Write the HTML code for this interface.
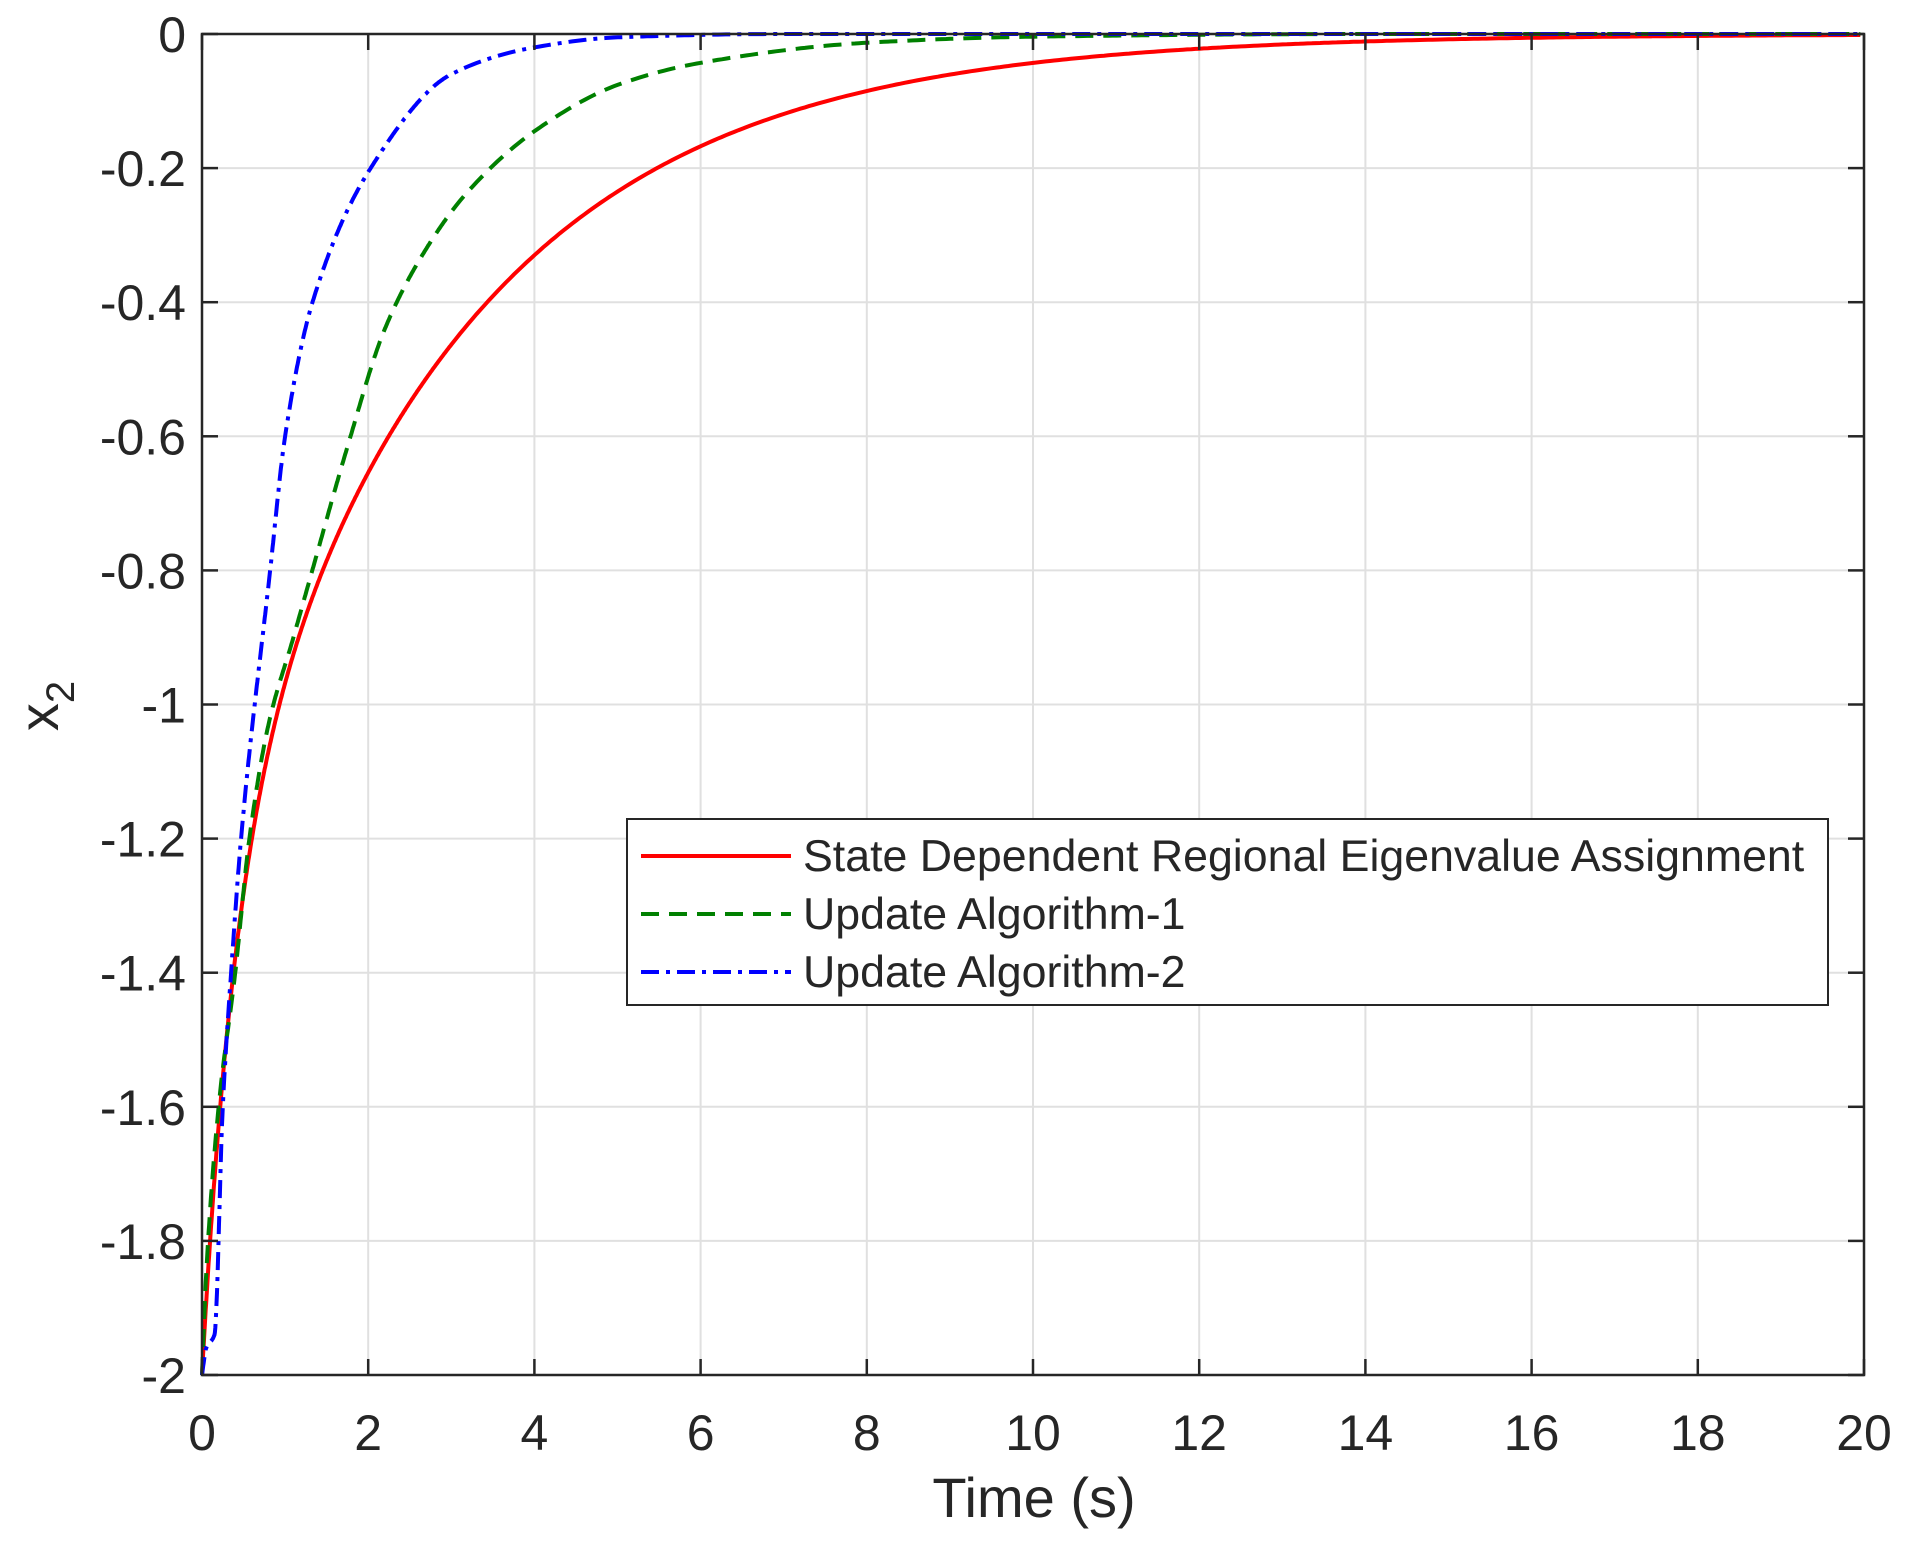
<!DOCTYPE html>
<html><head><meta charset="utf-8"><style>
html,body{margin:0;padding:0;background:#fff}
svg text{font-family:"Liberation Sans",sans-serif;fill:#262626}
</style></head><body>
<svg id="s" width="1908" height="1538" xmlns="http://www.w3.org/2000/svg">
<rect width="1908" height="1538" fill="#fff"/>
<g id="grid" stroke="#e0e0e0" stroke-width="2"></g>
<g id="curves" fill="none" stroke-width="4"></g>
<rect x="202" y="34" width="1662" height="1341" fill="none" stroke="#262626" stroke-width="2.5"/>
<g id="ticks" stroke="#262626" stroke-width="2.5"></g>
<g id="labels" font-size="50"></g>
<text x="1034" y="1517" font-size="56" text-anchor="middle">Time (s)</text>
<g transform="translate(58,706) rotate(-90)"><text x="0" y="0" font-size="56" text-anchor="middle">x<tspan font-size="40" dy="16">2</tspan></text></g>
<rect x="627" y="819" width="1201" height="186" fill="#fff" stroke="#262626" stroke-width="2"/>
<line x1="641" y1="856" x2="791" y2="856" stroke="#ff0000" stroke-width="4"/>
<line x1="641" y1="914" x2="791" y2="914" stroke="#008000" stroke-width="4" stroke-dasharray="18,10"/>
<line x1="641" y1="972" x2="791" y2="972" stroke="#0000ff" stroke-width="4" stroke-dasharray="18,7,4,7"/>
<text x="803" y="871" font-size="44.7">State Dependent Regional Eigenvalue Assignment</text>
<text x="803" y="929" font-size="44.7">Update Algorithm-1</text>
<text x="803" y="987" font-size="44.7">Update Algorithm-2</text>
</svg>
<script>
var L=202,R=1864,T=34,B=1375;
function X(t){return L+(R-L)*t/20}
function Y(v){return T+(B-T)*(-v)/2}
var ns="http://www.w3.org/2000/svg";
function el(p,n,a){var e=document.createElementNS(ns,n);for(var k in a)e.setAttribute(k,a[k]);p.appendChild(e);return e}
var g=document.getElementById('grid'),tk=document.getElementById('ticks'),lb=document.getElementById('labels');
for(var i=0;i<=10;i++){var x=X(i*2);
 if(i>0&&i<10)el(g,'line',{x1:x,y1:T,x2:x,y2:B});
 el(tk,'line',{x1:x,y1:B,x2:x,y2:B-16});el(tk,'line',{x1:x,y1:T,x2:x,y2:T+16});
 var t=el(lb,'text',{x:x,y:1450,'text-anchor':'middle'});t.textContent=String(i*2);}
for(var j=0;j<=10;j++){var v=-j*0.2,y=Y(v);
 if(j>0&&j<10)el(g,'line',{x1:L,y1:y,x2:R,y2:y});
 el(tk,'line',{x1:L,y1:y,x2:L+16,y2:y});el(tk,'line',{x1:R,y1:y,x2:R-16,y2:y});
 var s=j==0?'0':(j==5?'-1':(j==10?'-2':(-j*0.2).toFixed(1)));
 var t=el(lb,'text',{x:186,y:y+18,'text-anchor':'end'});t.textContent=s;}
function pchip(pts){var n=pts.length,x=pts.map(p=>p[0]),y=pts.map(p=>p[1]),h=[],d=[],m=[];
 for(var i=0;i<n-1;i++){h[i]=x[i+1]-x[i];d[i]=(y[i+1]-y[i])/h[i];}
 m[0]=d[0];m[n-1]=d[n-2];
 for(var i=1;i<n-1;i++){if(d[i-1]*d[i]<=0)m[i]=0;else{var w1=2*h[i]+h[i-1],w2=h[i]+2*h[i-1];m[i]=(w1+w2)/(w1/d[i-1]+w2/d[i]);}}
 return function(t){var k=0;while(k<n-2&&t>x[k+1])k++;var s=(t-x[k])/h[k],s2=s*s,s3=s2*s;
  return (2*s3-3*s2+1)*y[k]+(s3-2*s2+s)*h[k]*m[k]+(-2*s3+3*s2)*y[k+1]+(s3-s2)*h[k]*m[k+1];};}
function path(f){var d='';for(var t=0;t<=20.0001;t+=(t<3?0.005:0.05)){d+=(d?' L':'M')+X(t).toFixed(1)+','+Y(f(t)).toFixed(1);}return d;}
var c=document.getElementById('curves');
var red=function(t){return -2*(0.36*Math.exp(-2.55*t)+0.64*Math.exp(-0.339*t));};
var green=pchip([[0,-2],[0.05,-1.85],[0.2,-1.6],[0.4,-1.4],[0.57,-1.2],[0.8,-1.03],[1.1,-0.9],[1.35,-0.79],[1.74,-0.62],[2.2,-0.44],[2.7,-0.32],[3.2,-0.235],[4,-0.145],[5,-0.076],[6,-0.043],[8,-0.013],[10,-0.004],[14,0],[20,0]]);
var blue=pchip([[0,-2],[0.05,-1.96],[0.15,-1.94],[0.25,-1.6],[0.35,-1.4],[0.47,-1.2],[0.82,-0.8],[1.0,-0.6],[1.33,-0.4],[2.03,-0.2],[3,-0.06],[4,-0.02],[5,-0.005],[7,0],[20,0]]);
el(c,'path',{d:path(red),stroke:'#ff0000'});
el(c,'path',{d:path(green),stroke:'#008000','stroke-dasharray':'18,10'});
el(c,'path',{d:path(blue),stroke:'#0000ff','stroke-dasharray':'18,7,4,7'});
</script>
</body></html>
